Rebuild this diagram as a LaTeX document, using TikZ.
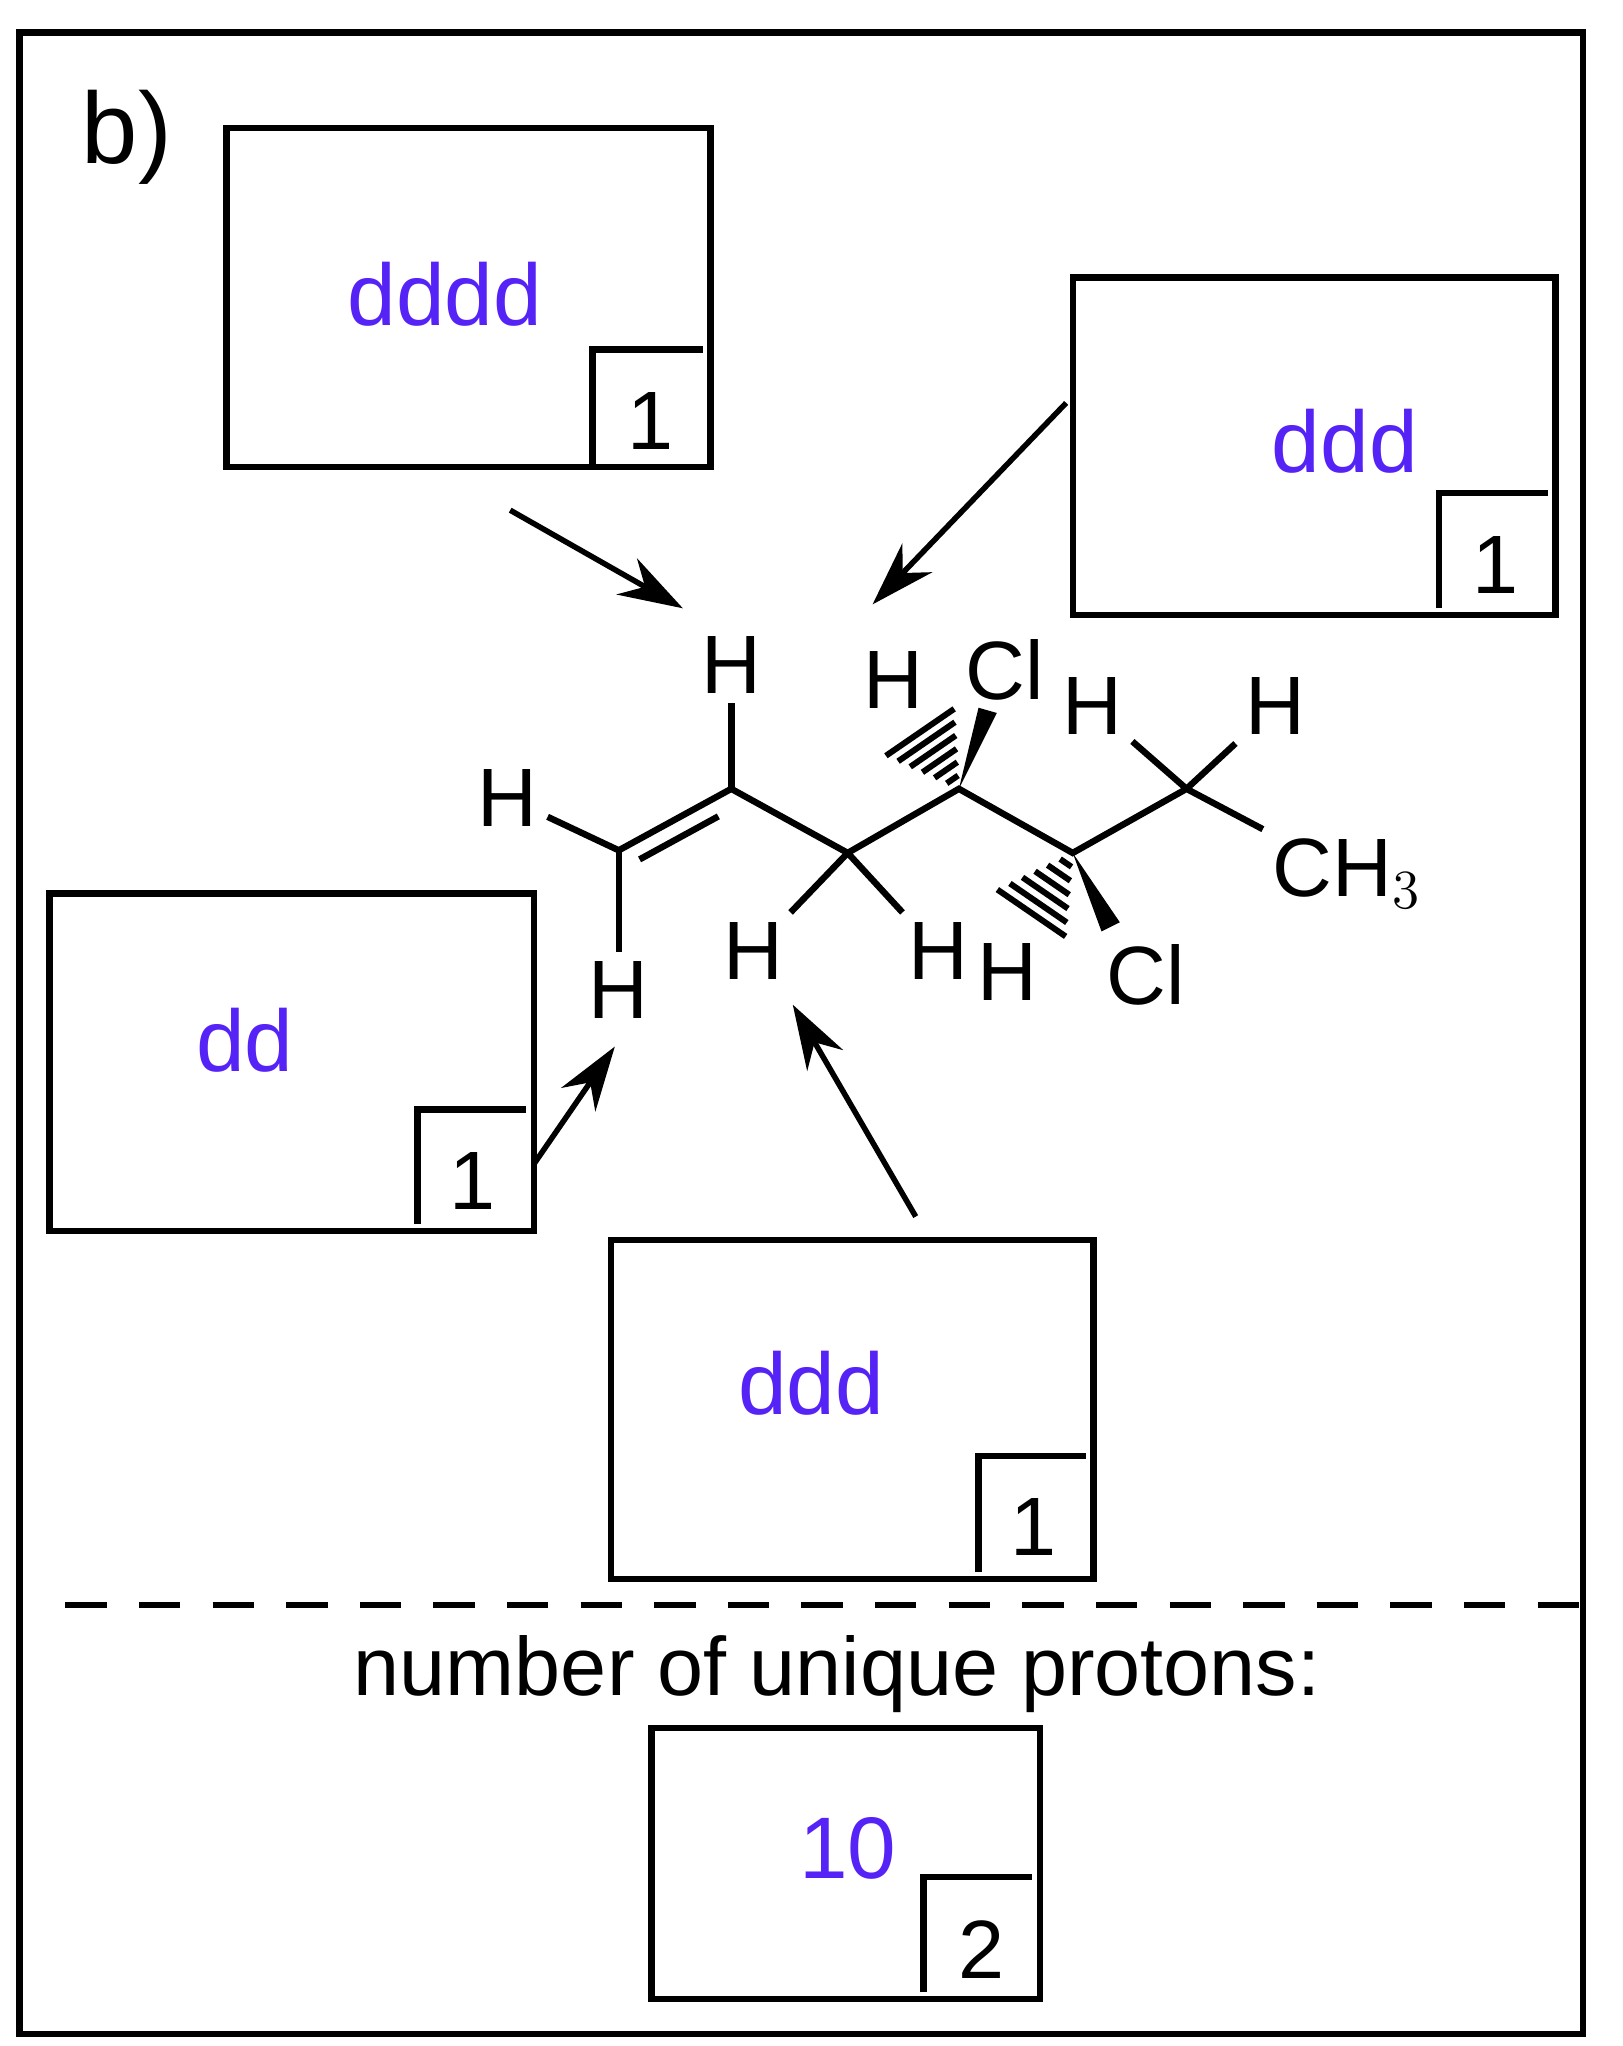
\documentclass[tikz,border=0pt]{standalone}
\usepackage{fontspec}
\setmainfont{Liberation Sans}
\usetikzlibrary{calc, arrows.meta}
\definecolor{answer}{RGB}{85,35,245}

\begin{document}
\begin{tikzpicture}[x=0.01cm, y=-0.01cm,
    answerbox/.style={draw, line width=1.4pt},
    answertext/.style={text=answer, font=\fontsize{19}{22}\selectfont},
    atom/.style={font=\fontsize{18}{20}\selectfont, inner sep=2pt},
    bond/.style={line width=1.4pt},
    arrow/.style={-{Stealth[length=14pt, width=9pt]}, line width=1.2pt}
]
\useasboundingbox (0,0) rectangle (1240,1564);
\draw[line width=1.4pt] (15,25) rectangle (1210,1555);
\node[font=\fontsize{22}{24}\selectfont] (label) at (97,105) {b)};

% answer boxes
\draw[answerbox] (173,98) rectangle (543,357);
\node[answertext] (ans1) at (340,225) {dddd};
\draw[bond] (453,357) -- (453,267) -- (537,267);
\node[atom] (count1) at (497,322) {1};

\draw[answerbox] (820,212) rectangle (1189,470);
\node[answertext] (ans2) at (1028,337) {ddd};
\draw[bond] (1100,465) -- (1100,377) -- (1183,377);
\node[atom] (count2) at (1143,432) {1};

\draw[answerbox] (38,683) rectangle (408,941);
\node[answertext] (ans3) at (187,795) {dd};
\draw[bond] (319,936) -- (319,848) -- (402,848);
\node[atom] (count3) at (361,903) {1};

\draw[answerbox] (467,948) rectangle (836,1207);
\node[answertext] (ans4) at (620,1057) {ddd};
\draw[bond] (748,1202) -- (748,1113) -- (830,1113);
\node[atom] (count4) at (790,1167) {1};

\draw[line width=1.2pt, dash pattern=on 9pt off 7pt] (50,1227) -- (1215,1227);
\node[font=\fontsize{18}{20}\selectfont] (question) at (640,1280) {number of unique protons:};
\draw[answerbox] (498,1321) rectangle (795,1528);
\node[answertext] (total) at (648,1413) {10};
\draw[bond] (706,1523) -- (706,1435) -- (789,1435);
\node[atom] (count5) at (750,1490) {2};

% molecule
\coordinate (c1) at (473,650);
\coordinate (c2) at (559,603);
\coordinate (c3) at (648,652);
\coordinate (c4) at (733,603);
\coordinate (c5) at (820,652);
\coordinate (c6) at (907,603);
\node[atom] (h2) at (559,508) {H};
\node[atom] (h1a) at (388,610) {H};
\node[atom] (h1b) at (473,757) {H};
\node[atom] (h3a) at (576,727) {H};
\node[atom] (h3b) at (717,727) {H};
\node[atom] (h4) at (683,520) {H};
\node[atom] (cl4) at (768,512) {Cl};
\node[atom] (h5) at (770,743) {H};
\node[atom] (cl5) at (876,745) {Cl};
\node[atom] (h6a) at (835,540) {H};
\node[atom] (h6b) at (975,540) {H};
\node[atom] (me) at (1030,668) {CH$_3$};

\draw[bond] (c1) -- (c2) -- (c3) -- (c4) -- (c5) -- (c6) -- (me);
\draw[bond] ($(c1)!0.15!(c2)+(3,14)$) -- ($(c1)!0.85!(c2)+(3,14)$);
\draw[bond] (c1) -- (h1a);
\draw[bond] (c1) -- (h1b);
\draw[bond] (c2) -- (h2);
\draw[bond] (c3) -- (h3a);
\draw[bond] (c3) -- (h3b);
\draw[bond] (c6) -- (h6a);
\draw[bond] (c6) -- (h6b);
% wedges and hashes
\fill (c4) -- (748,541) -- (762,545) -- cycle;
\fill (c5) -- (842,712) -- (856,705) -- cycle;
\foreach \t in {0.15,0.3,...,0.95} {
  \draw[line width=1.3pt] ($(c4)!\t!(700,555)!\t*10pt!90:(700,555)$) -- ($(c4)!\t!(700,555)!\t*10pt!-90:(700,555)$);
  \draw[line width=1.3pt] ($(c5)!\t!(785,703)!\t*10pt!90:(785,703)$) -- ($(c5)!\t!(785,703)!\t*10pt!-90:(785,703)$);
}

% arrows
\coordinate (from1) at (390,390);
\coordinate (to1) at (522,465);
\coordinate (from2) at (815,308);
\coordinate (to2) at (667,462);
\coordinate (from3) at (408,890);
\coordinate (to3) at (470,800);
\coordinate (from4) at (700,930);
\coordinate (to4) at (606,768);
\draw[arrow] (from1) -- (to1);
\draw[arrow] (from2) -- (to2);
\draw[arrow] (from3) -- (to3);
\draw[arrow] (from4) -- (to4);
\end{tikzpicture}
\end{document}
